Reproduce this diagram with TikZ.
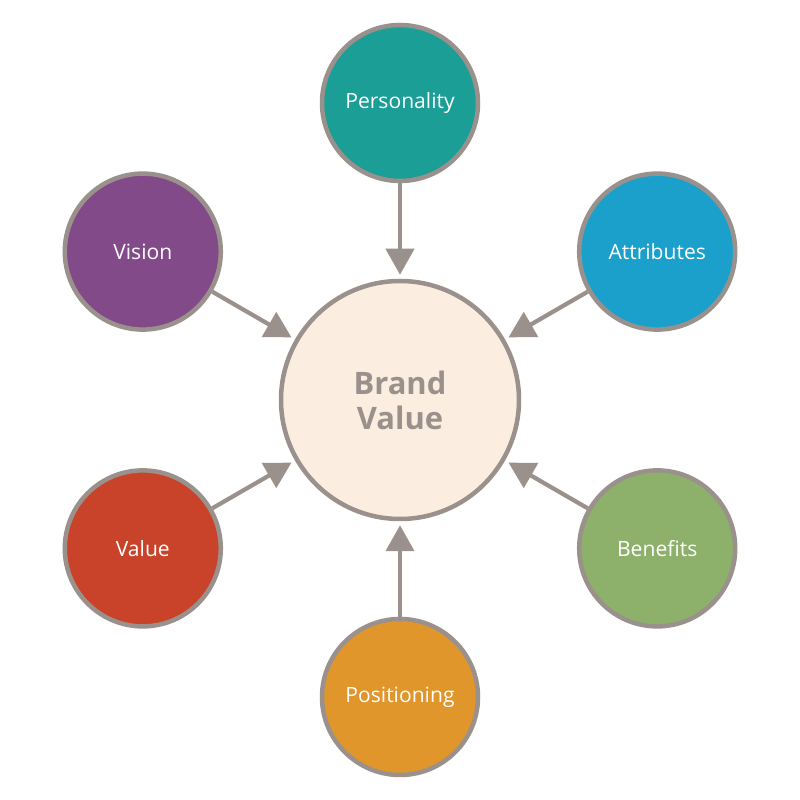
\documentclass[tikz,border=0pt]{standalone}
\usepackage{fontspec}
\setmainfont{Open Sans}
\usepackage{tikz}
\usetikzlibrary{arrows.meta, positioning}
\definecolor{ringGray}{HTML}{9A918C}
\definecolor{coreFill}{HTML}{FBEEE0}
\definecolor{persTeal}{HTML}{1A9E96}
\definecolor{attrBlue}{HTML}{1AA0CB}
\definecolor{beneGreen}{HTML}{8DB06A}
\definecolor{posOrange}{HTML}{E0962A}
\definecolor{valRed}{HTML}{C8432A}
\definecolor{visPurple}{HTML}{834A8A}

\begin{document}
\begin{tikzpicture}[
      font=\fontsize{15}{17}\selectfont,
      spoke/.style={circle, draw=ringGray, line width=3.2pt, minimum size=3.9cm,
                    fill=#1, text=white, align=center},
      link/.style={-{Triangle[length=0.65cm, width=0.7cm]}, draw=ringGray,
                   line width=3pt, shorten >=0.1cm}
    ]
    \useasboundingbox (0,0) rectangle (20,20);
    \node[circle, draw=ringGray, line width=3.2pt, minimum size=5.95cm, fill=coreFill,
          text=ringGray, align=center, font=\fontsize{22}{25}\selectfont\bfseries]
          (brand) at (10,10) {Brand\\Value};
    \node[spoke=persTeal]   (pers) at (10,17.425)    {Personality};
    \node[spoke=attrBlue]   (attr) at (16.43,13.71)  {Attributes};
    \node[spoke=beneGreen]  (bene) at (16.43,6.29)   {Benefits};
    \node[spoke=posOrange]  (posi) at (10,2.575)     {Positioning};
    \node[spoke=valRed]     (valu) at (3.57,6.29)    {Value};
    \node[spoke=visPurple]  (visi) at (3.57,13.71)   {Vision};
    \draw[link] (pers) -- (brand);
    \draw[link] (attr) -- (brand);
    \draw[link] (bene) -- (brand);
    \draw[link] (posi) -- (brand);
    \draw[link] (valu) -- (brand);
    \draw[link] (visi) -- (brand);
  \end{tikzpicture}
\end{document}
